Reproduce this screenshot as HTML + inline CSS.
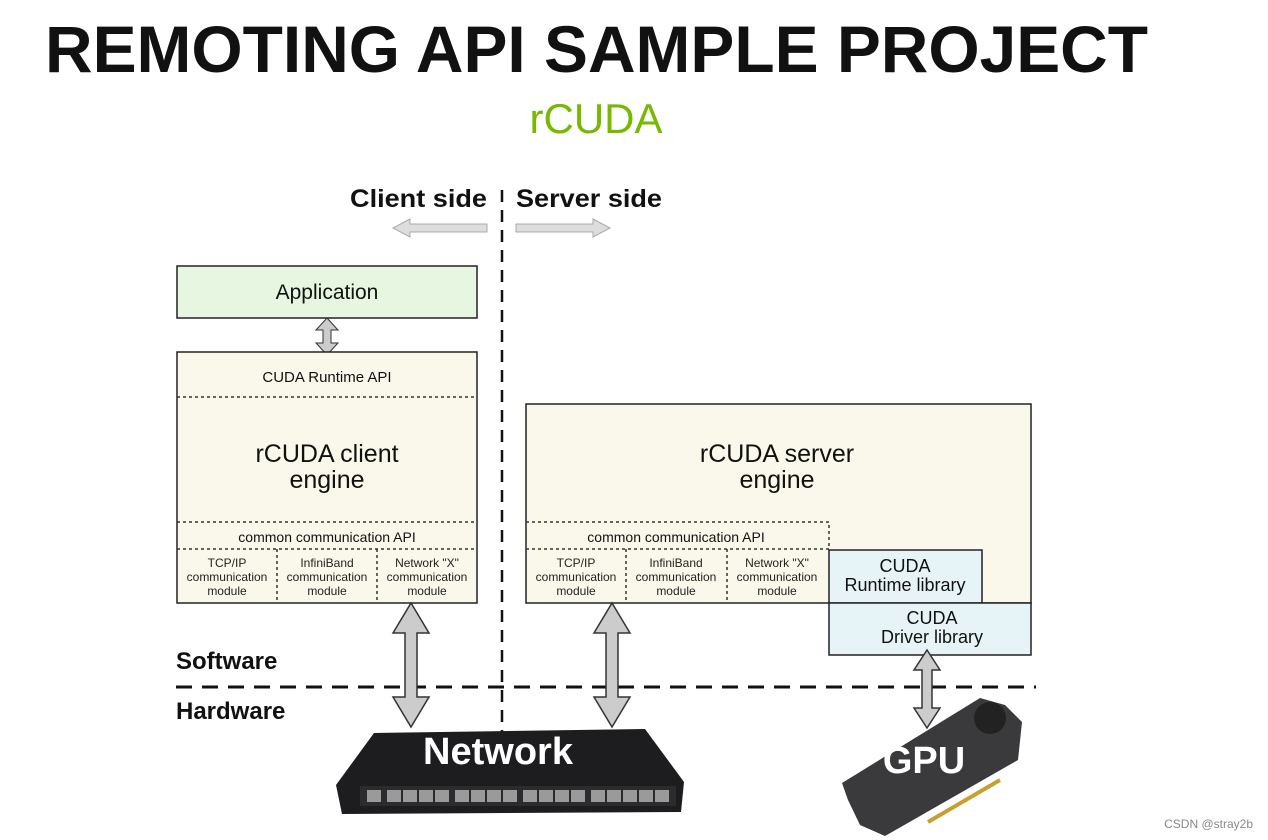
<!DOCTYPE html>
<html><head><meta charset="utf-8"><style>
html,body{margin:0;padding:0;background:#fff}
svg{display:block}
text{font-family:"Liberation Sans",Arial,sans-serif}
</style></head><body>
<svg width="1268" height="840" viewBox="0 0 1268 840" xmlns="http://www.w3.org/2000/svg">
<rect width="1268" height="840" fill="#fff"/>
<text x="45" y="72" font-size="66" font-weight="bold" fill="#111" textLength="1103" lengthAdjust="spacingAndGlyphs">REMOTING API SAMPLE PROJECT</text>
<text x="596" y="133" font-size="42" fill="#76b900" text-anchor="middle">rCUDA</text>

<text x="487" y="207" font-size="25" font-weight="bold" fill="#111" text-anchor="end" textLength="137" lengthAdjust="spacingAndGlyphs">Client side</text>
<text x="516" y="207" font-size="25" font-weight="bold" fill="#111" textLength="146" lengthAdjust="spacingAndGlyphs">Server side</text>
<polygon points="393,228 410,219 410,224 487,224 487,232 410,232 410,237" fill="#ddd" stroke="#aaa"/>
<polygon points="610,228 593,219 593,224 516,224 516,232 593,232 593,237" fill="#ddd" stroke="#aaa"/>

<line x1="502" y1="190" x2="502" y2="735" stroke="#111" stroke-width="2.5" stroke-dasharray="12,8"/>
<line x1="176" y1="687" x2="1036" y2="687" stroke="#111" stroke-width="3" stroke-dasharray="16,10"/>

<rect x="177" y="266" width="300" height="52" fill="#e6f6e0" stroke="#222" stroke-width="1.5"/>
<text x="327" y="299" font-size="21" text-anchor="middle" fill="#111">Application</text>
<polygon points="327,318 338,330 331,330 331,343 338,343 327,355 316,343 323,343 323,330 316,330" fill="#ccc" stroke="#333"/>

<rect x="177" y="352" width="300" height="251" fill="#faf8ea" stroke="#222" stroke-width="1.5"/>
<text x="327" y="382" font-size="15" text-anchor="middle" fill="#111">CUDA Runtime API</text>
<line x1="177" y1="397" x2="477" y2="397" stroke="#333" stroke-width="1.5" stroke-dasharray="3,3"/>
<text x="327" y="462" font-size="25" text-anchor="middle" fill="#111">rCUDA client</text>
<text x="327" y="488" font-size="25" text-anchor="middle" fill="#111">engine</text>
<line x1="177" y1="522" x2="477" y2="522" stroke="#333" stroke-width="1.5" stroke-dasharray="3,3"/>
<text x="327" y="542" font-size="14" text-anchor="middle" fill="#111">common communication API</text>
<line x1="177" y1="549" x2="477" y2="549" stroke="#333" stroke-width="1.5" stroke-dasharray="3,3"/>
<line x1="277" y1="549" x2="277" y2="603" stroke="#333" stroke-width="1.5" stroke-dasharray="3,3"/>
<line x1="377" y1="549" x2="377" y2="603" stroke="#333" stroke-width="1.5" stroke-dasharray="3,3"/>
<g font-size="12" text-anchor="middle" fill="#222">
<text x="227" y="567">TCP/IP</text><text x="227" y="581">communication</text><text x="227" y="595">module</text>
<text x="327" y="567">InfiniBand</text><text x="327" y="581">communication</text><text x="327" y="595">module</text>
<text x="427" y="567">Network "X"</text><text x="427" y="581">communication</text><text x="427" y="595">module</text>
</g>

<rect x="526" y="404" width="505" height="199" fill="#faf8ea" stroke="#222" stroke-width="1.5"/>
<text x="777" y="462" font-size="25" text-anchor="middle" fill="#111">rCUDA server</text>
<text x="777" y="488" font-size="25" text-anchor="middle" fill="#111">engine</text>
<path d="M526,522 H829 V549" fill="none" stroke="#333" stroke-width="1.5" stroke-dasharray="3,3"/>
<text x="676" y="542" font-size="14" text-anchor="middle" fill="#111">common communication API</text>
<line x1="526" y1="549" x2="829" y2="549" stroke="#333" stroke-width="1.5" stroke-dasharray="3,3"/>
<line x1="626" y1="549" x2="626" y2="603" stroke="#333" stroke-width="1.5" stroke-dasharray="3,3"/>
<line x1="727" y1="549" x2="727" y2="603" stroke="#333" stroke-width="1.5" stroke-dasharray="3,3"/>
<g font-size="12" text-anchor="middle" fill="#222">
<text x="576" y="567">TCP/IP</text><text x="576" y="581">communication</text><text x="576" y="595">module</text>
<text x="676" y="567">InfiniBand</text><text x="676" y="581">communication</text><text x="676" y="595">module</text>
<text x="777" y="567">Network "X"</text><text x="777" y="581">communication</text><text x="777" y="595">module</text>
</g>
<rect x="829" y="550" width="153" height="53" fill="#e6f4f8" stroke="#222" stroke-width="1.5"/>
<text x="905" y="572" font-size="18" text-anchor="middle" fill="#111">CUDA</text>
<text x="905" y="591" font-size="18" text-anchor="middle" fill="#111">Runtime library</text>
<rect x="829" y="603" width="202" height="52" fill="#e6f4f8" stroke="#222" stroke-width="1.5"/>
<text x="932" y="624" font-size="18" text-anchor="middle" fill="#111">CUDA</text>
<text x="932" y="643" font-size="18" text-anchor="middle" fill="#111">Driver library</text>

<text x="176" y="669" font-size="24" font-weight="bold" fill="#111">Software</text>
<text x="176" y="719" font-size="24" font-weight="bold" fill="#111">Hardware</text>

<polygon points="336,785 374,733 645,729 684,782 681,812 342,814" fill="#1d1d1f"/>
<rect x="360" y="786" width="316" height="20" fill="#2c2c2e"/>
<g fill="#9a9a9a">
<rect x="367" y="790" width="14" height="12"/><rect x="387" y="790" width="14" height="12"/><rect x="403" y="790" width="14" height="12"/><rect x="419" y="790" width="14" height="12"/><rect x="435" y="790" width="14" height="12"/>
<rect x="455" y="790" width="14" height="12"/><rect x="471" y="790" width="14" height="12"/><rect x="487" y="790" width="14" height="12"/><rect x="503" y="790" width="14" height="12"/>
<rect x="523" y="790" width="14" height="12"/><rect x="539" y="790" width="14" height="12"/><rect x="555" y="790" width="14" height="12"/><rect x="571" y="790" width="14" height="12"/>
<rect x="591" y="790" width="14" height="12"/><rect x="607" y="790" width="14" height="12"/><rect x="623" y="790" width="14" height="12"/><rect x="639" y="790" width="14" height="12"/><rect x="655" y="790" width="14" height="12"/>
</g>
<text x="498" y="764" font-size="38" font-weight="bold" fill="#fff" text-anchor="middle">Network</text>

<polygon points="842,783 980,698 1005,705 1022,722 1018,760 885,836 860,825 848,800" fill="#3a3a3c"/>
<circle cx="990" cy="718" r="16" fill="#222"/>
<line x1="928" y1="822" x2="1000" y2="780" stroke="#c8a030" stroke-width="4"/>
<text x="924" y="773" font-size="38" font-weight="bold" fill="#fff" text-anchor="middle">GPU</text>

<polygon points="411,603 429,633 417,633 417,697 429,697 411,727 393,697 405,697 405,633 393,633" fill="#ccc" stroke="#333" stroke-width="1.5"/>
<polygon points="612,603 630,633 618,633 618,697 630,697 612,727 594,697 606,697 606,633 594,633" fill="#ccc" stroke="#333" stroke-width="1.5"/>
<polygon points="927,650 940,670 932,670 932,708 940,708 927,728 914,708 922,708 922,670 914,670" fill="#ccc" stroke="#333" stroke-width="1.5"/>

<text x="1253" y="828" font-size="12" fill="#888" text-anchor="end">CSDN @stray2b</text>
</svg>
</body></html>
